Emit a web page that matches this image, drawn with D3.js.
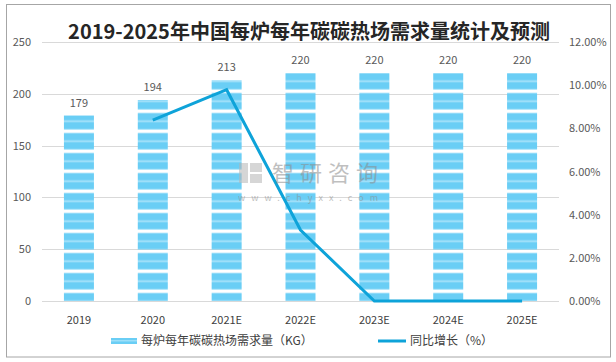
<!DOCTYPE html>
<html>
<head>
<meta charset="utf-8">
<script src="https://cdn.jsdelivr.net/npm/d3@7"></script>
<style>
body { margin: 0; background: #fff; }
text { font-family: "Noto Sans CJK SC", "Noto Sans", sans-serif; }
</style>
</head>
<body>
<div id="chart"></div>
<script>
// data
var years = ['2019', '2020', '2021E', '2022E', '2023E', '2024E', '2025E']
var demand = [179, 194, 213, 220, 220, 220, 220]
var growth = [null, 8.38, 9.79, 3.29, 0, 0, 0]
var left_ticks = [0, 50, 100, 150, 200, 250]
var right_ticks = [0, 2, 4, 6, 8, 10, 12]
var title = '2019-2025年中国每炉每年碳碳热场需求量统计及预测'
var bar_name = '每炉每年碳碳热场需求量（KG）'
var line_name = '同比增长（%）'

var width = 616, height = 362
var left = 42, right = 559, top_y = 42, bottom_y = 301
var bar_color = '#6acef5', stripe_color = '#a9e3fa', line_color = '#0ea3d9'

var svg = d3.select('#chart')
    .append('svg')
    .attr('width', width)
    .attr('height', height)

// outer frame
svg.append('rect')
    .attr('x', 6.5).attr('y', 4.5)
    .attr('width', 604).attr('height', 352.5)
    .attr('fill', 'none')
    .attr('stroke', '#a6a6a6')

var x = d3.scaleBand().domain(years).range([left, right])
var y = d3.scaleLinear().domain([0, 250]).range([bottom_y, top_y])
var y2 = d3.scaleLinear().domain([0, 12]).range([bottom_y, top_y])

// striped fill for bars, anchored so the last block sits on the zero line
var defs = svg.append('defs')
var pat = defs.append('pattern')
    .attr('id', 'stripes')
    .attr('patternUnits', 'userSpaceOnUse')
    .attr('x', 0).attr('y', y(0) - 8.3)
    .attr('width', 10).attr('height', 20)
pat.append('rect').attr('width', 10).attr('height', 16.7).attr('fill', bar_color)
pat.append('rect').attr('y', 0).attr('width', 10).attr('height', 0.8).attr('fill', stripe_color)
pat.append('rect').attr('y', 7.6).attr('width', 10).attr('height', 1.8).attr('fill', stripe_color)

// grid lines
svg.append('g')
    .selectAll('line')
    .data(left_ticks)
    .enter()
    .append('line')
    .attr('x1', left).attr('x2', right)
    .attr('y1', d => Math.round(y(d)) + 0.5)
    .attr('y2', d => Math.round(y(d)) + 0.5)
    .attr('stroke', '#d9d9d9')

// left axis labels
svg.append('g')
    .selectAll('text')
    .data(left_ticks)
    .enter()
    .append('text')
    .attr('x', 31)
    .attr('y', d => y(d) + 4)
    .attr('text-anchor', 'end')
    .attr('font-size', 11)
    .attr('fill', '#595959')
    .text(d => d)

// right axis labels
svg.append('g')
    .selectAll('text')
    .data(right_ticks)
    .enter()
    .append('text')
    .attr('x', 569)
    .attr('y', d => y2(d) + 4)
    .attr('font-size', 11)
    .attr('fill', '#595959')
    .text(d => d.toFixed(2) + '%')

// x labels
svg.append('g')
    .selectAll('text')
    .data(years)
    .enter()
    .append('text')
    .attr('x', d => x(d) + x.bandwidth() / 2)
    .attr('y', 324)
    .attr('text-anchor', 'middle')
    .attr('font-size', 11)
    .attr('fill', '#404040')
    .text(d => d)

// bars
var bar_w = 30
svg.append('g')
    .selectAll('rect')
    .data(demand)
    .enter()
    .append('rect')
    .attr('x', (d, i) => x(years[i]) + x.bandwidth() / 2 - bar_w / 2)
    .attr('y', d => y(d))
    .attr('width', bar_w)
    .attr('height', d => y(0) - y(d))
    .attr('fill', 'url(#stripes)')

// bar value labels
svg.append('g')
    .selectAll('text')
    .data(demand)
    .enter()
    .append('text')
    .attr('x', (d, i) => x(years[i]) + x.bandwidth() / 2)
    .attr('y', d => y(d) - 9)
    .attr('text-anchor', 'middle')
    .attr('font-size', 11)
    .attr('fill', '#595959')
    .text(d => d)

// growth line
var line = d3.line()
    .defined(d => d != null)
    .x((d, i) => x(years[i]) + x.bandwidth() / 2)
    .y(d => y2(d))

svg.append('path')
    .datum(growth)
    .attr('d', line)
    .attr('fill', 'none')
    .attr('stroke', line_color)
    .attr('stroke-width', 3)

// watermark
var wm = svg.append('g').attr('opacity', 0.55)
wm.append('rect').attr('x', 239).attr('y', 163).attr('width', 9).attr('height', 20).attr('fill', '#b5b5b5')
wm.append('rect').attr('x', 250).attr('y', 163).attr('width', 12).attr('height', 9).attr('fill', '#b5b5b5')
wm.append('rect').attr('x', 250).attr('y', 174).attr('width', 12).attr('height', 9).attr('fill', '#b5b5b5')
wm.append('text')
    .attr('x', 272).attr('y', 181)
    .attr('font-size', 22)
    .attr('fill', '#8c8c8c')
    .attr('textLength', 106)
    .text('智研咨询')
wm.append('text')
    .attr('x', 238).attr('y', 201)
    .attr('font-size', 9)
    .attr('fill', '#8c8c8c')
    .attr('textLength', 140)
    .text('www.chyxx.com')

// title
svg.append('text')
    .attr('x', 309)
    .attr('y', 39)
    .attr('text-anchor', 'middle')
    .attr('font-size', 20)
    .attr('font-weight', 'bold')
    .attr('fill', '#262626')
    .text(title)

// legend
var lg = svg.append('g')
lg.append('rect').attr('x', 111).attr('y', 338).attr('width', 26).attr('height', 6).attr('fill', bar_color)
lg.append('rect').attr('x', 111).attr('y', 340.2).attr('width', 26).attr('height', 1.2).attr('fill', stripe_color)
lg.append('text')
    .attr('x', 141).attr('y', 345)
    .attr('font-size', 12)
    .attr('fill', '#404040')
    .text(bar_name)
lg.append('line')
    .attr('x1', 378).attr('x2', 406)
    .attr('y1', 341).attr('y2', 341)
    .attr('stroke', line_color)
    .attr('stroke-width', 3)
lg.append('text')
    .attr('x', 410).attr('y', 345)
    .attr('font-size', 12)
    .attr('fill', '#404040')
    .text(line_name)
</script>
</body>
</html>
